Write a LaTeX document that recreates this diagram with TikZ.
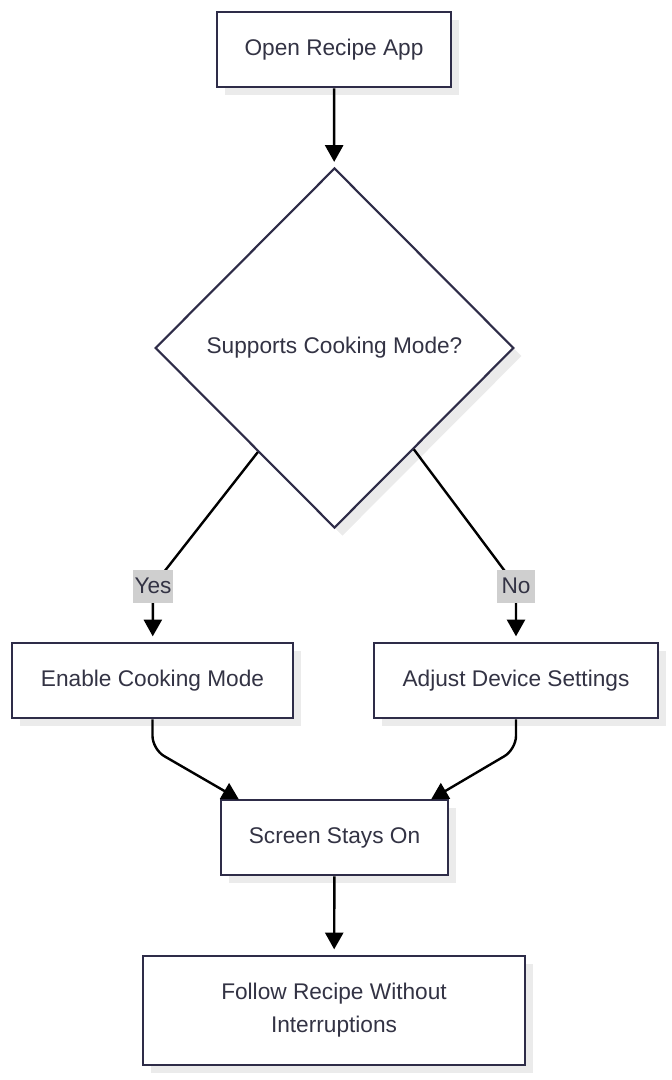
\documentclass[tikz,border=0pt]{standalone}
\usepackage{fontspec}
\setmainfont{Liberation Sans}
\usetikzlibrary{shapes.geometric,arrows.meta,shadows,calc}
\definecolor{boxline}{HTML}{2E2C48}
\definecolor{boxtext}{HTML}{333344}
\definecolor{lblfill}{HTML}{CFCFCF}
\definecolor{shade}{HTML}{EBEBEB}
\tikzset{
  box/.style={rectangle, draw=boxline, line width=2pt, fill=white, text=boxtext,
    minimum height=56.25pt, align=center, inner sep=0pt,
    drop shadow={shadow xshift=6pt, shadow yshift=-6pt, fill=shade, opacity=1}},
  decide/.style={diamond, draw=boxline, line width=1.6pt, fill=white, text=boxtext,
    minimum width=269pt, minimum height=270pt, inner sep=0pt, aspect=1,
    drop shadow={shadow xshift=6pt, shadow yshift=-6pt, fill=shade, opacity=1}},
  flow/.style={line width=1.8pt, -{Triangle[width=13.5pt,length=12.5pt]}, shorten >=4pt},
  lbl/.style={fill=lblfill, text=boxtext, inner sep=1pt, minimum width=28pt, minimum height=24.75pt}
}
\begin{document}
\begin{tikzpicture}[x=0.75pt, y=-0.75pt, font=\fontsize{17}{24.75}\selectfont]
        \useasboundingbox (0,0) rectangle (671,1080);

        \node (open) at (334,49.5) [box, minimum width=175.5pt] {Open Recipe App};
        \node (dec) at (334.5,348) [decide] {Supports Cooking Mode?};
        \node (enable) at (152.5,680.5) [box, minimum width=210.75pt] {Enable Cooking Mode};
        \node (adjust) at (516,680.5) [box, minimum width=213pt] {Adjust Device Settings};
        \node (screen) at (334.5,837.5) [box, minimum width=170.25pt] {Screen Stays On};
        \node (follow) at (334,1010.5) [box, minimum width=286.5pt, minimum height=81.75pt] {Follow Recipe Without\\Interruptions};

        \coordinate (dl) at ($(dec.west)!0.575!(dec.south)$);
        \coordinate (dr) at ($(dec.south)!0.44!(dec.east)$);
        \coordinate (yl) at (153,586);
        \coordinate (nl) at (516,586);

        \draw[flow] (open) -- (dec);
        \draw[flow] (dl) -- (yl) -- (enable);
        \draw[flow] (dr) -- (nl) -- (adjust);
        \draw[flow, shorten >=1pt, rounded corners=10pt] (enable.south) -- ++(0,30) -- (240,800);
        \draw[flow, shorten >=1pt, rounded corners=10pt] (adjust.south) -- ++(0,30) -- (430,800);
        \draw[flow] (screen) -- (follow);

        \node (yes) at (yl) [lbl] {Yes};
        \node (no) at (nl) [lbl] {No};
        \end{tikzpicture}
\end{document}
